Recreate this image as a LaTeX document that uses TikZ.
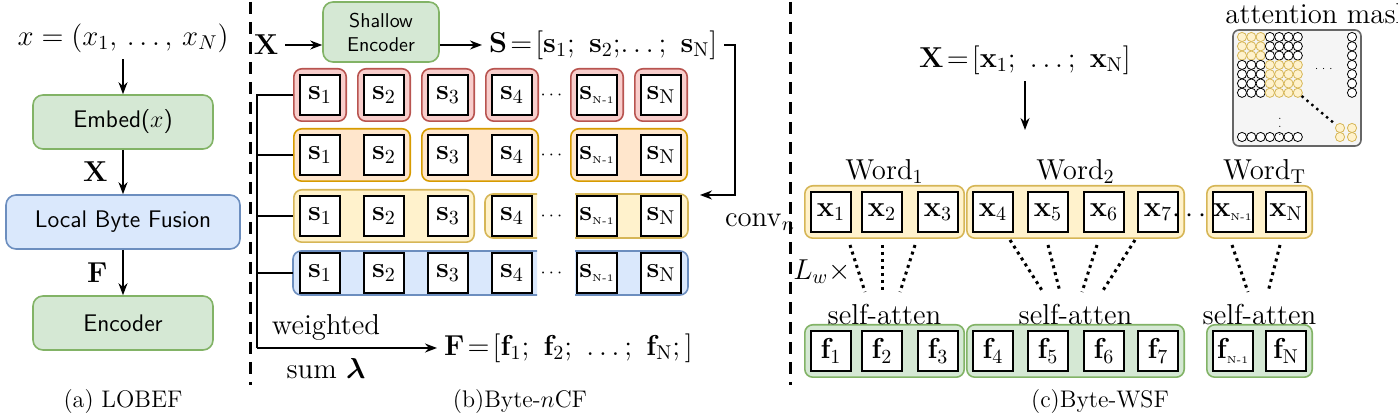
\documentclass[tikz,border=0pt]{standalone}
\usepackage{amsmath}
\usepackage{amssymb}
\usepackage{xcolor}
\usepackage{tikz}
\usetikzlibrary{
  positioning,
  fit,
  backgrounds,
  arrows.meta
}
\definecolor{gfill}{HTML}{D5E8D4}
\definecolor{gline}{HTML}{82B366}
\definecolor{bfill}{HTML}{DAE8FC}
\definecolor{bline}{HTML}{6C8EBF}
\definecolor{rfill}{HTML}{F8CECC}
\definecolor{rline}{HTML}{B85450}
\definecolor{ofill}{HTML}{FFE6CC}
\definecolor{oline}{HTML}{D79B00}
\definecolor{yfill}{HTML}{FFF2CC}
\definecolor{yline}{HTML}{D6B656}
\definecolor{mfill}{HTML}{F5F5F5}
\definecolor{mline}{HTML}{666666}

\begin{document}
\begin{tikzpicture}[x=0.5pt, y=-0.5pt,
    >={Stealth[length=6pt]},
    every node/.style={font=\Large},
    block/.style={draw, rounded corners=5pt, thick, minimum height=27pt, font=\sffamily\large},
    cell/.style={draw, fill=white, very thick, minimum size=20pt, inner sep=0pt, font=\Large},
    grp/.style={draw, rounded corners=4pt, thick, inner sep=2.5pt},
    dot/.style={circle, draw, inner sep=0pt, minimum size=4.6pt},
    dashsep/.style={line width=1.5pt, dash pattern=on 6pt off 4pt},
    attn/.style={line width=1.5pt, dotted}]
\useasboundingbox (0,0) rectangle (1398,416);

% (a) LOBEF
\node (xin) at (123,38) {$x=(x_1,\,\dots,\,x_N)$};
\node[block, fill=gfill, draw=gline, minimum width=90pt] (embed) at (123,122) {Embed($x$)};
\node[block, fill=bfill, draw=bline, minimum width=117pt] (lbf) at (123,222) {Local Byte Fusion};
\node[block, fill=gfill, draw=gline, minimum width=90pt] (enc) at (123,323) {Encoder};
\draw[->, thick] (xin) -- (embed);
\draw[->, thick] (embed) -- node[left=4pt] {$\mathbf{X}$} (lbf);
\draw[->, thick] (lbf) -- node[left=4pt] {$\mathbf{F}$} (enc);
\node[font=\large] (capa) at (123,402) {(a) LOBEF};

\draw[dashsep] (250,2) -- (250,385);
\draw[dashsep] (790,2) -- (790,385);

% (b) Byte-nCF
\node (xb) at (266,45) {$\mathbf{X}$};
\node[block, fill=gfill, draw=gline, minimum width=58pt, minimum height=30pt, align=center, font=\sffamily\normalsize] (shallow) at (381,32) {Shallow\\Encoder};
\node[anchor=west] (seq) at (482,45) {$\mathbf{S}\!=\![\mathbf{s}_1;\ \mathbf{s}_2;\!\dots;\ \mathbf{s}_\mathrm{N}]$};
\draw[->, thick] (xb) -- (xb -| shallow.west);
\draw[->, thick] (shallow.east |- seq) -- (seq);
\coordinate (conv) at (700,195);
\draw[->, thick] (seq.east) -| (735,195) -- (conv);
\node (convn) at (760,222) {$\mathrm{conv}_n$};

\foreach \r/\y in {1/95,2/155,3/216,4/273}
  \foreach \k/\x/\t in {1/320/1,2/384/2,3/448/3,4/512/4,5/597/{\text{\tiny N-1}},6/661/\mathrm{N}}
    \node[cell] (s\r\k) at (\x,\y) {$\mathbf{s}_{\t}$};
\foreach \r/\y in {1/95,2/155,3/216,4/273}
  \node[font=\small] (d\r) at (553,\y) {$\cdots$};

\begin{scope}[on background layer]
  \foreach \k in {1,...,6}
    \node[grp, fill=rfill, draw=rline, fit=(s1\k)] (g1\k) {};
  \node[grp, fill=ofill, draw=oline, fit=(s21)(s22)] (g21) {};
  \node[grp, fill=ofill, draw=oline, fit=(s23)(s24)] (g22) {};
  \node[grp, fill=ofill, draw=oline, fit=(s25)(s26)] (g23) {};
  \node[grp, fill=yfill, draw=yline, fit=(s31)(s32)(s33)] (g31) {};
  \filldraw[thick, fill=yfill, draw=yline, rounded corners=4pt] (537,194) -- (485,194) -- (485,238) -- (537,238);
  \filldraw[thick, fill=yfill, draw=yline, rounded corners=4pt] (575,194) -- (688,194) -- (688,238) -- (575,238);
  \filldraw[thick, fill=bfill, draw=bline, rounded corners=4pt] (537,251) -- (293,251) -- (293,295) -- (537,295);
  \filldraw[thick, fill=bfill, draw=bline, rounded corners=4pt] (575,251) -- (688,251) -- (688,295) -- (575,295);
  \coordinate (g41w) at (293,273);
\end{scope}

\coordinate (br) at (257,348);
\draw[thick] (g11.west) -- (257,95) -- (br);
\draw[thick] (257,155) -- (g21.west);
\draw[thick] (257,216) -- (g31.west);
\draw[thick] (257,273) -- (g41w);
\node[anchor=west] (fseq) at (437,348) {$\mathbf{F}\!=\![\mathbf{f}_1;\ \mathbf{f}_2;\ \dots;\ \mathbf{f}_\mathrm{N};]$};
\draw[->, thick] (br) -- (fseq);
\node (wt) at (326,327) {weighted};
\node (sl) at (326,369) {sum $\boldsymbol{\lambda}$};
\node[font=\large] (capb) at (520,402) {(b)Byte-$n$CF};

% (c) Byte-WSF
\node (xc) at (1025,60) {$\mathbf{X}\!=\![\mathbf{x}_1;\ \dots;\ \mathbf{x}_\mathrm{N}]$};
\coordinate (xarr) at (1025,130);
\draw[->, thick] (xc) -- (xarr);

% attention mask
\node (mtit) at (1318,14) {attention mask};
\node[draw=mline, fill=mfill, thick, rounded corners=3pt, minimum width=64pt, minimum height=58pt] (mask) at (1297,88) {};
\foreach \i in {0,...,6} {
  \foreach \j in {0,...,6} {
    \pgfmathtruncatemacro{\yel}{(\i<3 && \j<3) || (\i>2 && \j>2) ? 1 : 0}
    \ifnum\yel=1
      \node[dot, fill=yfill, draw=yline] (m\i\j) at (1242+9.3*\j,37+9.3*\i) {};
    \else
      \node[dot, fill=white, draw=black] (m\i\j) at (1242+9.3*\j,37+9.3*\i) {};
    \fi
  }
  \node[dot, fill=white, draw=black] (mr\i) at (1352,37+9.3*\i) {};
}
\foreach \j in {0,...,6}
  \node[dot, fill=white, draw=black] (mb\j) at (1242+9.3*\j,137) {};
\foreach \a/\b in {1340/128,1352/128,1340/137,1352/137}
  \node[dot, fill=yfill, draw=yline] at (\a,\b) {};
\node[font=\tiny] (mh) at (1325,69) {$\cdots$};
\node[font=\tiny] (mv) at (1280,121) {$\vdots$};
\draw[line width=1.2pt, dotted] (m66) -- (1335,124);

% words
\foreach \k/\x/\t in {1/831/1,2/882/2,3/938/3,4/993/4,5/1048/5,6/1104/6,7/1158/7,8/1233/{\text{\tiny N-1}},9/1286/\mathrm{N}} {
  \node[cell] (x\k) at (\x,212) {$\mathbf{x}_{\t}$};
  \node[cell] (f\k) at (\x,351) {$\mathbf{f}_{\t}$};
}
\node (xd) at (1192,216) {$\cdots$};
\begin{scope}[on background layer]
  \node[grp, fill=yfill, draw=yline, fit=(x1)(x3)] (w1) {};
  \node[grp, fill=yfill, draw=yline, fit=(x4)(x7)] (w2) {};
  \node[grp, fill=yfill, draw=yline, fit=(x8)(x9)] (w3) {};
  \node[grp, fill=gfill, draw=gline, fit=(f1)(f3)] (o1) {};
  \node[grp, fill=gfill, draw=gline, fit=(f4)(f7)] (o2) {};
  \node[grp, fill=gfill, draw=gline, fit=(f8)(f9)] (o3) {};
\end{scope}
\node[above=-3pt of w1] (wl1) {Word$_1$};
\node[above=-3pt of w2] (wl2) {Word$_2$};
\node[above=-3pt of w3.north east, anchor=south east] (wl3) {Word$_\mathrm{T}$};
\node[above=-4pt of o1] (sa1) {self-atten};
\node[above=-4pt of o2] (sa2) {self-atten};
\node[above=-4pt of o3] (sa3) {self-atten};
\node (lw) at (822,272) {$L_w\times$};

\draw[attn] (850,245) -- (865,292);
\draw[attn] (882,245) -- (882,292);
\draw[attn] (915,245) -- (900,292);
\draw[attn] (1010,240) -- (1043,292);
\draw[attn] (1048,245) -- (1060,292);
\draw[attn] (1097,245) -- (1082,292);
\draw[attn] (1135,240) -- (1102,292);
\draw[attn] (1232,245) -- (1248,292);
\draw[attn] (1280,245) -- (1268,292);
\node[font=\large] (capc) at (1100,402) {(c)Byte-WSF};
\end{tikzpicture}
\end{document}
